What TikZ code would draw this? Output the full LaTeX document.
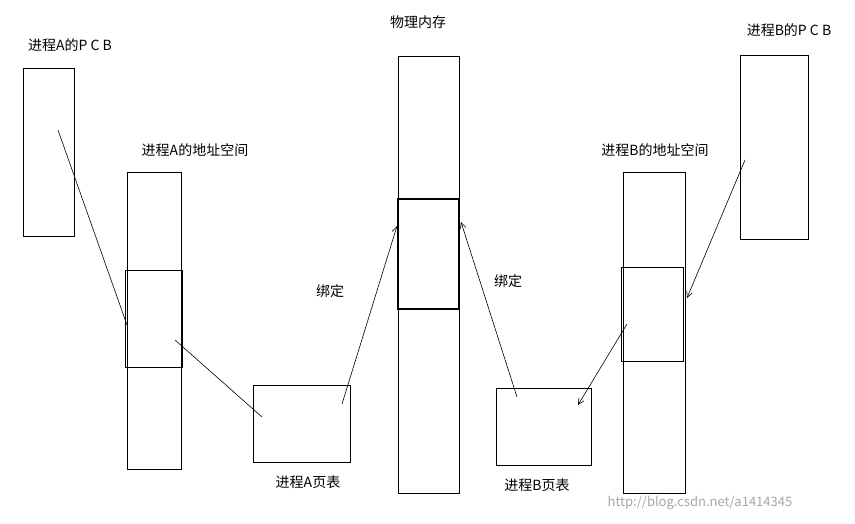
\documentclass[tikz,border=0pt]{standalone}
\usepackage{fontspec}
\setmainfont{Noto Sans CJK SC}
\usetikzlibrary{arrows.meta}
\begin{document}
\begin{tikzpicture}[x=1pt,y=-1pt,
  box/.style={draw,line width=0.8pt},
  lbl/.style={font=\fontsize{14}{16}\selectfont,inner sep=0pt},
  con/.style={line width=0.6pt},
  arr/.style={con,-{Straight Barb[length=6pt,width=6pt]}}]
\useasboundingbox (0,0) rectangle (855,524);
\fill[white] (0,0) rectangle (855,524);
\node[box,minimum width=51pt,minimum height=168pt,inner sep=0pt] (pcba) at (48.5,152) {};
\node[lbl] (tpcba) at (70,45) {进程A的P C B};
\node[box,minimum width=54pt,minimum height=297pt,inner sep=0pt] (asa) at (154,320.5) {};
\node[box,minimum width=57pt,minimum height=97pt,inner sep=0pt] (asai) at (153.5,318.5) {};
\node[lbl] (tasa) at (195,150) {进程A的地址空间};
\node[box,minimum width=97pt,minimum height=77pt,inner sep=0pt] (pta) at (301.5,423.5) {};
\node[lbl] (tpta) at (308,482) {进程A页表};
\node[box,minimum width=61pt,minimum height=437pt,inner sep=0pt] (mem) at (428.5,274.5) {};
\node[box,line width=1.2pt,minimum width=61pt,minimum height=110pt,inner sep=0pt] (memi) at (428.5,254) {};
\node[lbl] (tmem) at (418,22) {物理内存};
\node[box,minimum width=95pt,minimum height=77pt,inner sep=0pt] (ptb) at (543.5,426.5) {};
\node[lbl] (tptb) at (537,485) {进程B页表};
\node[box,minimum width=62pt,minimum height=321pt,inner sep=0pt] (asb) at (654,332.5) {};
\node[box,minimum width=62pt,minimum height=94pt,inner sep=0pt] (asbi) at (652,314) {};
\node[lbl] (tasb) at (655,150) {进程B的地址空间};
\node[box,minimum width=68pt,minimum height=184pt,inner sep=0pt] (pcbb) at (774,147) {};
\node[lbl] (tpcbb) at (789,30) {进程B的P C B};
\node[lbl] (b1) at (330,291) {绑定};
\node[lbl] (b2) at (508,281) {绑定};
\node[font=\fontsize{13}{15}\selectfont,text=gray!70,inner sep=0pt] (wm) at (700,503) {http://blog.csdn.net/a1414345};
\coordinate (c1) at (58,130); \coordinate (c2) at (127,325);
\draw[con] (c1) -- (c2);
\coordinate (c3) at (175,340); \coordinate (c4) at (262,417);
\draw[con] (c3) -- (c4);
\coordinate (c5) at (342,404); \coordinate (c6) at (397,226);
\draw[arr] (c5) -- (c6);
\coordinate (c7) at (517,397); \coordinate (c8) at (461,222);
\draw[arr] (c7) -- (c8);
\coordinate (c9) at (627,324); \coordinate (c10) at (578,405);
\draw[arr] (c9) -- (c10);
\coordinate (c11) at (745,160); \coordinate (c12) at (687,298);
\draw[arr] (c11) -- (c12);
\end{tikzpicture}
\end{document}
